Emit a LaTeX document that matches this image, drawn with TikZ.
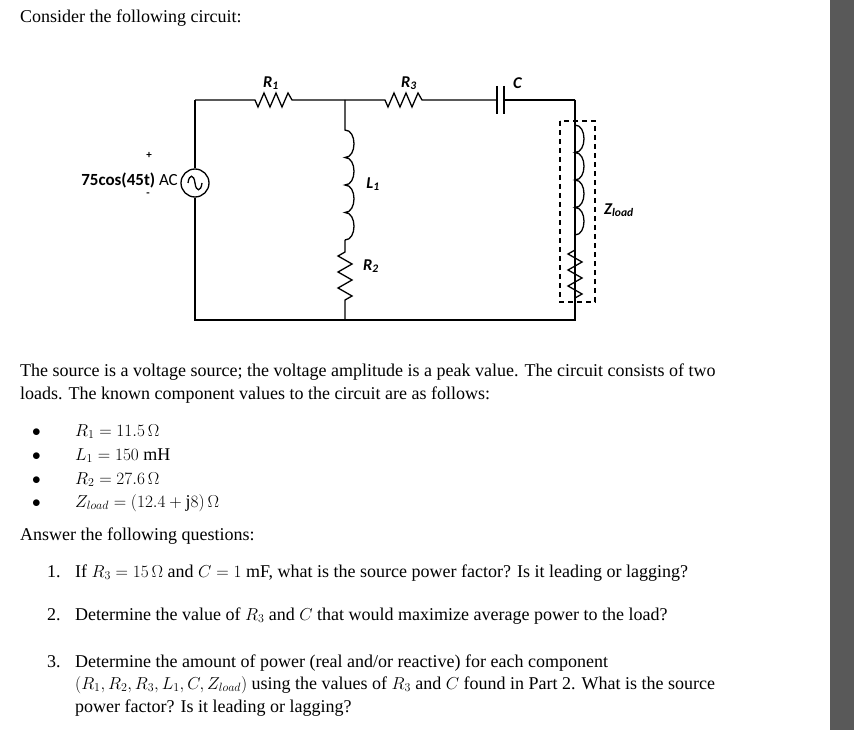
\documentclass[tikz,border=0pt]{standalone}
\usepackage{fontspec}
\setmainfont{Liberation Serif}
\newfontfamily\lab{Carlito}
\begin{document}
\begin{tikzpicture}[x=1pt,y=-1pt,
  w/.style={line width=1.3pt},
  txt/.style={anchor=base west,inner sep=0pt,font=\fontsize{18}{21}\selectfont},
  cl/.style={inner sep=0pt,font=\lab\bfseries\itshape\fontsize{16.5}{18}\selectfont}]
\useasboundingbox (0,0) rectangle (854,730);
\fill[white] (0,0) rectangle (854,730);
\fill[black!65] (830,0) rectangle (854,730);
\coordinate (tl) at (195,100); \coordinate (bl) at (195,320);
\coordinate (tm) at (345,100); \coordinate (bm) at (345,320);
\coordinate (tr) at (575,100); \coordinate (br) at (575,320);
% source
\node[draw,w,circle,minimum size=28pt,inner sep=0pt] (src) at (195,183) {};
\draw[w] (188,183) .. controls (189,174) and (194,174) .. (195,183) .. controls (196,192) and (201,192) .. (202,183);
\draw[w] (tl) -- (src.north); \draw[w] (src.south) -- (bl) -- (br) -- (tr);
% top wire with R1, R3, C
\draw[w] (tl) -- (255,100) -- (258,107) -- (264,93) -- (270,107) -- (276,93) -- (282,107) -- (288,93) -- (292,100) -- (tm)
  -- (385,100) -- (388,107) -- (394,93) -- (400,107) -- (406,93) -- (412,107) -- (418,93) -- (422,100) -- (497,100);
\draw[w] (497,86) -- (497,114); \draw[w] (504,86) -- (504,114);
\draw[w] (504,100) -- (tr);
% L1 and R2
\draw[w] (tm) -- (345,130)
  \foreach \k in {0,1,2,3} { .. controls +(12,0) and +(12,0) .. ++(0,27.5) };
\draw[w] (345,240) -- (345,252) -- (338,256) -- (352,264) -- (338,272) -- (352,280) -- (338,288) -- (352,296) -- (345,300) -- (bm);
% load
\draw[w] (tr) -- (575,125)
  \foreach \k in {0,1,2,3} { .. controls +(12,0) and +(12,0) .. ++(0,27.5) };
\draw[w] (575,235) -- (575,250) -- (568,254) -- (582,262) -- (568,270) -- (582,278) -- (568,286) -- (582,294) -- (575,298) -- (br);
\draw[line width=1.2pt,dash pattern=on 5pt off 4pt] (560,121) rectangle (595,302);
% labels
\node[cl] (lR1) at (271,83) {R\textsubscript{1}};
\node[cl] (lR3) at (409,83) {R\textsubscript{3}};
\node[cl,anchor=west] (lC) at (513,83) {C};
\node[cl] (lL1) at (373,184) {L\textsubscript{1}};
\node[cl] (lR2) at (371,266) {R\textsubscript{2}};
\node[cl,anchor=west] (lZ) at (604,210) {Z\textsubscript{load}};
\node[inner sep=0pt,font=\lab\bfseries\fontsize{11}{12}\selectfont] (plus) at (149,155) {+};
\node[inner sep=0pt,font=\lab\bfseries\fontsize{11}{12}\selectfont] (minus) at (148,195) {-};
\node[inner sep=0pt,anchor=east,font=\lab\fontsize{17}{19}\selectfont] (srcl) at (178,180) {\bfseries 75cos(45t)\mdseries{} AC};
% text
\node[txt] at (20,23) {Consider the following circuit:};
\node[txt] at (20,376) {The source is a voltage source; the voltage amplitude is a peak value. The circuit consists of two};
\node[txt] at (20,399) {loads. The known component values to the circuit are as follows:};
\foreach \yy/\tt in {436/{$R_1 = 11.5\,\Omega$},460/{$L_1 = 150$ mH},484/{$R_2 = 27.6\,\Omega$},507/{$Z_{load} = (12.4 + \mathrm{j}8)\,\Omega$}}{
  \node[txt] at (32,\yy) {$\bullet$};
  \node[txt] at (75,\yy) {\tt};}
\node[txt] at (20,540) {Answer the following questions:};
\node[txt] at (47,577) {1.};
\node[txt] at (75,577) {If $R_3 = 15\,\Omega$ and $C = 1$ mF, what is the source power factor? Is it leading or lagging?};
\node[txt] at (47,620) {2.};
\node[txt] at (75,620) {Determine the value of $R_3$ and $C$ that would maximize average power to the load?};
\node[txt] at (47,667) {3.};
\node[txt] at (75,667) {Determine the amount of power (real and/or reactive) for each component};
\node[txt] at (75,689) {$(R_1, R_2, R_3, L_1, C, Z_{load})$ using the values of $R_3$ and $C$ found in Part 2. What is the source};
\node[txt] at (75,712) {power factor? Is it leading or lagging?};
\end{tikzpicture}
\end{document}
